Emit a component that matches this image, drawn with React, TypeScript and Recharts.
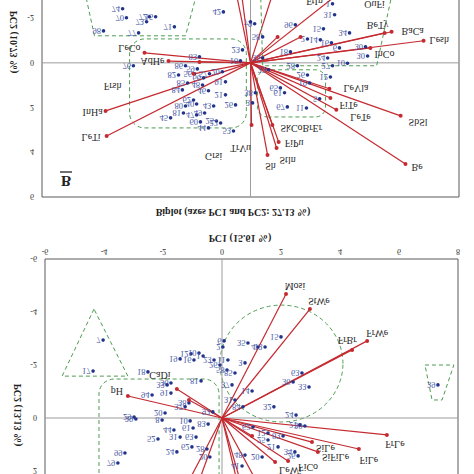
import React from 'react';
import { ScatterChart, Scatter, XAxis, YAxis, ReferenceLine, ReferenceArea } from 'recharts';

const FONT = '"Liberation Serif", "DejaVu Serif", serif';
const RED = '#c42a30';
const GREEN = '#4e9c52';
const NAVY = '#25328a';
const BLUE_TXT = '#4454a4';
const INK = '#2a2a2a';

// ---------- upper biplot (A) ----------
const ticksAX = [-6, -4, -2, 0, 2, 4, 6, 8];
const ticksAY = [-6, -4, -2, 0, 2, 4, 6];

const obsA: [string, number, number][] = [
  ['7', -4.03, -2.94], ['17', -4.37, -1.77], ['39', 7.32, -1.25],
  ['12', -1.05, -2.42], ['10', -0.78, -2.45], ['19', -1.42, -2.23], ['16', -0.95, -2.19], ['1', -0.64, -2.34],
  ['18', -2.51, -1.74], ['81', -0.71, -1.4], ['36', -1.73, -1.32], ['33', -1.86, -1.25],
  ['94', -2.37, -0.87], ['91', -1.73, -0.94], ['38', -1.12, -0.57], ['37', -1.25, -0.42],
  ['93', -0.31, -0.23], ['20', -1.93, -0.19], ['29', -2.98, -0.04], ['39', -2.92, 0.04],
  ['8', -2.03, 0.08], ['10', -1.08, 0.11], ['83', -0.47, 0.23], ['44', -1.63, 0.45],
  ['61', -0.98, 0.38], ['31', -1.42, 0.72], ['52', -2.17, 0.79], ['63', -0.88, 0.72],
  ['62', -1.02, 1.09], ['24', -1.53, 1.28], ['28', -0.51, 1.17], ['20', -0.41, 1.47],
  ['99', -3.29, 1.32], ['79', -3.53, 1.7],
  ['6', 0.07, -2.91], ['35', 0.88, -2.83], ['4', 1.22, -2.68], ['2', 0.03, -2.68],
  ['15', 2.0, -3.06], ['13', 1.46, -2.68], ['3', 0.78, -2.08], ['11', 0.2, -2.19],
  ['23', -0.27, -2.19], ['26', -0.07, -2.0], ['58', 0.17, -1.81], ['85', 0.44, -1.7],
  ['37', 0.34, -1.25], ['14', 1.02, -1.02], ['31', 0.44, -0.68], ['30', 2.41, -1.36],
  ['63', 2.71, -1.7], ['33', 2.95, -1.17], ['84', 0.71, -0.42], ['32', 1.76, -0.42],
  ['24', 2.51, -0.11], ['30', 2.81, 0.3], ['21', 2.64, 0.26], ['12', 1.56, 0.57],
  ['83', 2.07, 0.68], ['25', 1.56, 0.83], ['21', 1.9, 1.09], ['34', 2.47, 1.28],
  ['26', 2.58, 1.43], ['62', 1.05, 0.34], ['48', 0.78, 1.4], ['20', 1.36, 1.47], ['41', 0.68, 1.81],
];

const varsA: [string, number, number][] = [
  ['pH', -3.19, -0.83], ['CaDi', -1.53, -1.09], ['', -1.12, -0.68],
  ['Mosi', 2.17, -4.68], ['StWe', 2.98, -4.11], ['FrWe', 4.92, -2.91], ['FrBr', 4.41, -2.57],
  ['FrLe', 5.59, 0.64], ['FiLe', 4.64, 1.17], ['SiLe', 3.05, 0.91], ['SiFiLe', 3.25, 1.28],
  ['LeWi', 1.8, 1.66], ['FiCo', 2.24, 1.62], ['', 1.02, 0.68],
  ['', -1.29, 2.72], ['', -0.89, 2.72], ['', 0.58, 2.72], ['', 0.71, 2.72], ['', 1.33, 2.72],
];

const triangleA = [[-4.34, -4.11], [-5.42, -1.58], [-3.19, -1.58]];
const trapezoidA = [[6.88, -2.0], [7.86, -2.0], [7.46, -0.68], [7.12, -0.68]];
const boxA = { x1: -4.17, x2: -0.1, y1: -1.47, y2: 3.5 };
const circleA = { x1: -0.07, x2: 4.1, y1: -4.26, y2: 0.15 };

// ---------- lower biplot (B) ----------
const ticksBX = [-6, -4, -2, 0, 2, 4, 6];
const ticksBY = [-8, -6, -4, -2, 0, 2, 4, 6];

const obsB: [string, number, number][] = [
  ['74', -3.68, -2.42], ['70', -3.57, -2.02], ['72', -2.91, -2.06], ['73', -2.99, -1.84],
  ['15', -2.73, -2.06], ['71', -2.19, -1.61], ['77', -3.22, -1.34], ['98', -4.23, -1.43],
  ['42', -0.78, -2.28], ['83', -1.47, -0.27], ['76', -3.37, 0.13], ['86', -1.87, 0.13],
  ['59', -1.53, 0.27], ['82', -2.07, 0.54], ['56', -1.61, 0.49], ['85', -1.81, 0.9],
  ['66', -1.35, 0.67], ['57', -1.18, 0.49], ['20', -0.81, 0.4], ['48', -1.38, 0.99],
  ['91', -0.72, 0.85], ['84', -1.96, 1.21], ['46', -1.21, 1.25], ['21', -0.72, 1.43],
  ['62', -1.64, 1.66], ['40', -1.55, 1.84], ['80', -1.87, 1.93], ['81', -1.93, 2.24],
  ['43', -1.06, 1.93], ['49', -1.32, 2.24], ['26', -0.43, 1.88], ['45', -2.3, 2.46],
  ['60', -1.44, 2.64], ['47', -1.55, 2.33], ['25', -0.98, 2.6], ['22', -0.86, 2.69],
  ['44', -1.21, 2.91], ['53', -0.49, 3.05], ['16', -0.29, -0.09], ['23', -0.23, -0.58],
  ['58', 0.35, -1.16], ['9', 0.12, -1.75], ['96', 1.29, -1.7], ['31', 2.42, -2.15],
  ['1', 2.36, -2.64], ['15', 2.1, -1.52], ['2', 1.64, -1.07], ['14', 2.01, -1.03],
  ['16', 2.33, -0.9], ['34', 2.85, -1.34], ['18', 1.15, -0.49], ['6', 2.56, -0.67],
  ['30', 3.31, -0.72], ['30', 3.37, -0.31], ['24', 2.22, -0.22], ['28', 1.35, 0.13],
  ['10', 2.79, 0.02], ['27', 2.36, 0.13], ['26', 1.64, 0.54], ['12', 2.3, 0.63],
  ['19', 1.7, 0.9], ['33', 0.52, 0.31], ['65', 0.86, 1.12], ['61', 0.98, 1.34],
  ['67', 1.06, 1.97], ['5', 1.99, 1.61], ['11', 1.61, 2.02], ['38', 0.14, 1.34],
  ['3', 0.06, 1.79], ['35', 0.35, -0.22], ['7', 0.0, -1.84],
];

const varsB: [string, number, number][] = [
  ['LeCo', -3.05, -0.45], ['AdHe', -2.36, -0.08], ['', -1.47, -0.04], ['', -1.64, 0.49],
  ['InHa', -4.17, 2.15], ['LeTi', -4.14, 3.27],
  ['TrVu', 0.03, 2.78], ['SkCoBrEr', 0.63, 2.78], ['FiPu', 0.81, 3.54], ['Stln', 0.75, 3.81], ['Sh', 0.49, 4.12],
  ['Be', 4.46, 4.52], ['SbSl', 4.32, 2.37], ['LeTe', 2.47, 2.1], ['FiTe', 2.3, 1.57], ['LeVla', 2.27, 1.16],
  ['InCo', 3.45, -0.67], ['Lesh', 4.98, -0.99], ['BaCa', 4.06, -1.39], ['BeTy', 3.86, -1.34],
  ['FtIn', 2.42, -2.96], ['', 0.78, -1.16], ['', 1.44, -1.16],
  ['', -0.46, -3.49], ['', -0.29, -3.49], ['', 0.72, -3.49],
];

// variables whose names are printed without a visible arrow
const namesOnlyB: [string, number, number][] = [
  ['Frsh', -3.97, 1.07], ['Grsi', -1.06, 4.21], ['OuFi', 3.57, -2.6],
];

const trapezoidB = [[-4.77, -3.2], [-4.49, -1.21], [-1.87, -1.21], [-1.53, -3.2]];
const polygonB = [[0.29, -3.2], [0.35, 0.13], [3.63, 0.13], [4.09, -3.2]];
const boxB1 = { x1: -3.48, x2: -0.12, y1: -1.07, y2: 2.91 };
const boxB2 = { x1: 0.2, x2: 2.16, y1: 0.31, y2: 2.42 };

// label offsets of the variable names, in screen pixels as seen in the figure
const LABEL_POS: Record<string, [number, number, string]> = {
  pH: [-5, -5, 'end'], CaDi: [-17, -14, 'middle'], Mosi: [9, -7, 'middle'], StWe: [9, -8, 'middle'],
  FrWe: [10, -7, 'middle'], FrBr: [-5, -9, 'middle'], FrLe: [8, 10, 'middle'], FiLe: [10, 11, 'middle'],
  SiLe: [4, 6, 'start'], SiFiLe: [4, 6, 'start'], LeWi: [4, 8, 'start'], FiCo: [10, 7, 'start'],
  LeCo: [-4, -4, 'end'], AdHe: [-4, 0, 'end'], InHa: [-3, 2, 'end'], LeTi: [-6, 2, 'end'],
  TrVu: [-11, 23, 'middle'], SkCoBrEr: [8, 3, 'start'], FiPu: [6, 1, 'start'], Stln: [3, 12, 'start'],
  Sh: [3, 12, 'middle'], Be: [6, 4, 'start'], SbSl: [8, 7, 'start'], LeTe: [14, 8, 'start'],
  FiTe: [9, 8, 'start'], LeVla: [14, 0, 'start'], InCo: [4, 7, 'start'], Lesh: [6, 0, 'start'],
  BaCa: [10, 0, 'start'], BeTy: [-7, -7, 'middle'], FtIn: [-20, 5, 'middle'],
};

const toPts = (rows: [string, number, number][]) => rows.map(([name, x, y]) => ({ name, x, y }));
const toPoly = (rows: number[][]) => [...rows, rows[0]].map(([x, y]) => ({ x, y }));

const ObsDot = (props: any) => {
  const { cx, cy, payload } = props;
  return (
    <g>
      <circle cx={cx} cy={cy} r={1.8} fill={NAVY} />
      <text x={cx - 2.5} y={cy} textAnchor="end" dominantBaseline="central" fontSize={8.5} fill={BLUE_TXT} fontFamily={FONT}>
        {payload.name}
      </text>
    </g>
  );
};

const VarTip = (props: any) => {
  const { cx, cy, payload } = props;
  const pos = LABEL_POS[payload.name];
  return (
    <g>
      <circle cx={cx} cy={cy} r={2} fill={RED} />
      {pos && (
        <text x={cx + pos[0]} y={cy - pos[1]} textAnchor={pos[2] as any} dominantBaseline="central" fontSize={10} fill={INK} fontFamily={FONT}>
          {payload.name}
        </text>
      )}
    </g>
  );
};

const NameOnly = (props: any) => (
  <text x={props.cx} y={props.cy} textAnchor="middle" dominantBaseline="central" fontSize={10} fill={INK} fontFamily={FONT}>
    {props.payload.name}
  </text>
);

const Hidden = () => <g />;

const dashed = { stroke: GREEN, strokeDasharray: '4 3', strokeWidth: 1 };

const roundBox = (rx: number) => (p: any) => (
  <rect x={p.x} y={p.y} width={p.width} height={p.height} rx={rx} ry={rx} fill="none" {...dashed} />
);
const ellipse = (p: any) => (
  <ellipse cx={p.x + p.width / 2} cy={p.y + p.height / 2} rx={p.width / 2} ry={p.height / 2} fill="none" {...dashed} />
);

const tickStyle = { fontSize: 8, fill: '#333', fontFamily: FONT };

interface BiplotProps {
  width: number;
  height: number;
  yAxisWidth: number;
  rightMargin: number;
  xDomain: [number, number];
  yDomain: [number, number];
  xTicks: number[];
  yTicks: number[];
  children?: React.ReactNode;
  vars: { name: string; x: number; y: number }[];
}

const Biplot = ({ width, height, yAxisWidth, rightMargin, xDomain, yDomain, xTicks, yTicks, vars, children }: BiplotProps) => (
  <ScatterChart width={width} height={height} margin={{ top: 4, right: rightMargin, bottom: 0, left: 0 }}>
    <XAxis type="number" dataKey="x" domain={xDomain} ticks={xTicks} axisLine={false} tickLine={false} tickSize={2} tick={tickStyle} height={30} allowDataOverflow />
    <YAxis type="number" dataKey="y" domain={yDomain} ticks={yTicks} axisLine={false} tickLine={false} tickSize={6} tick={tickStyle} width={yAxisWidth} allowDataOverflow />
    <ReferenceArea x1={xDomain[0]} x2={xDomain[1]} y1={yDomain[0]} y2={yDomain[1]} fill="none" stroke="#5a5a5a" strokeWidth={1} fillOpacity={0} />
    <ReferenceLine x={0} stroke="#9c9c9c" />
    <ReferenceLine y={0} stroke="#9c9c9c" />
    {vars.map((v, i) => (
      <ReferenceLine key={`v${i}`} segment={[{ x: 0, y: 0 }, { x: v.x, y: v.y }]} stroke={RED} strokeWidth={1.2} />
    ))}
    {children}
  </ScatterChart>
);

export default function App() {
  const vA = toPts(varsA);
  const vB = toPts(varsB);
  return (
    <div style={{ position: 'absolute', left: 0, top: 0, width: 474, height: 474, overflow: 'hidden', background: '#fff', transform: 'scaleY(-1)' }}>
      <div style={{ position: 'absolute', left: 0, top: -107 }}>
        <Biplot width={474} height={352} yAxisWidth={45} rightMargin={16} xDomain={[-6, 8]} yDomain={[-6, 6]} xTicks={ticksAX} yTicks={ticksAY} vars={vA}>
          <Scatter data={toPoly(triangleA)} line={dashed} shape={Hidden} isAnimationActive={false} />
          <Scatter data={toPoly(trapezoidA)} line={dashed} shape={Hidden} isAnimationActive={false} />
          <ReferenceArea {...boxA} shape={roundBox(15)} />
          <ReferenceArea {...circleA} shape={ellipse} />
          <Scatter data={toPts(obsA)} shape={ObsDot} isAnimationActive={false} />
          <Scatter data={vA} shape={VarTip} isAnimationActive={false} />
        </Biplot>
      </div>
      <div style={{ position: 'absolute', left: 0, top: 273 }}>
        <Biplot width={474} height={347} yAxisWidth={42} rightMargin={15} xDomain={[-6, 6]} yDomain={[-8, 6]} xTicks={ticksBX} yTicks={ticksBY} vars={vB}>
          <Scatter data={toPoly(trapezoidB)} line={dashed} shape={Hidden} isAnimationActive={false} />
          <Scatter data={toPoly(polygonB)} line={dashed} shape={Hidden} isAnimationActive={false} />
          <ReferenceArea {...boxB1} shape={roundBox(15)} />
          <ReferenceArea {...boxB2} shape={roundBox(10)} />
          <Scatter data={toPts(obsB)} shape={ObsDot} isAnimationActive={false} />
          <Scatter data={vB} shape={VarTip} isAnimationActive={false} />
          <Scatter data={toPts(namesOnlyB)} shape={NameOnly} isAnimationActive={false} />
        </Biplot>
      </div>
      <svg width={474} height={474} style={{ position: 'absolute', left: 0, top: 0, pointerEvents: 'none' }}>
        <g fontFamily={FONT} fontWeight="bold" fontSize={10} fill="#222" textAnchor="middle">
          <text x={240} y={236} dominantBaseline="central">PC1 (15.61 %)</text>
          <text x={233} y={262} dominantBaseline="central">Biplot (axes PC1 and PC2: 27.13 %)</text>
          <text x={17} y={59} dominantBaseline="central" transform="rotate(-90 17 59)">PC2 (13.13 %)</text>
          <text x={13} y={432} dominantBaseline="central" transform="rotate(-90 13 432)">PC2 (10.73 %)</text>
          <text x={66} y={293} dominantBaseline="central" fontSize={15}>B</text>
        </g>
        <line x1={60} x2={72} y1={302} y2={302} stroke="#222" strokeWidth={1.3} />
      </svg>
    </div>
  );
}
